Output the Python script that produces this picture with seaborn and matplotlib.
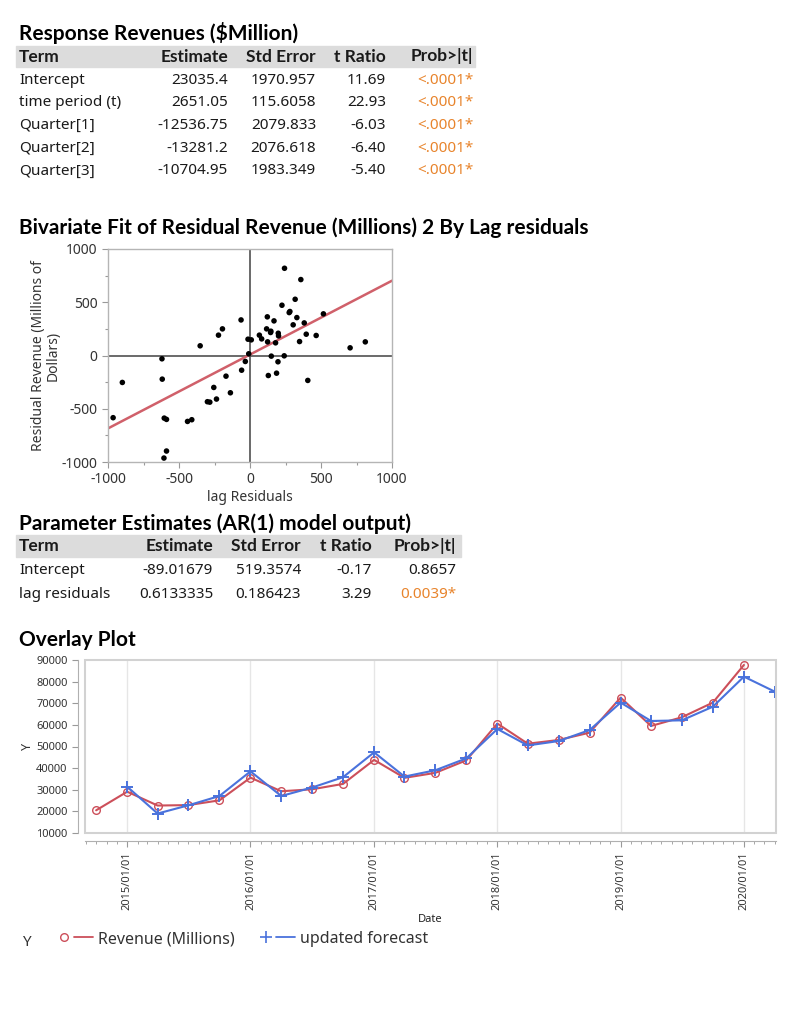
import numpy as np
import pandas as pd
import matplotlib.pyplot as plt
import matplotlib.dates as mdates
from matplotlib.lines import Line2D
from matplotlib.patches import Rectangle
from matplotlib.legend_handler import HandlerTuple
from matplotlib.ticker import MultipleLocator
import seaborn as sns

sns.set_style('white')
plt.rcParams['font.family'] = ['Noto Sans', 'DejaVu Sans']
plt.rcParams['axes.unicode_minus'] = False
BOLD = ['Lato', 'DejaVu Sans']

W, H = 810, 1024

#### 0. data ###########################################################
tbl_cols = ['Term', 'Estimate', 'Std Error', 't Ratio', 'Prob>|t|']

tbl1_title = 'Response Revenues ($Million)'
tbl1_terms = ['Intercept', 'time period (t)', 'Quarter[1]', 'Quarter[2]', 'Quarter[3]']
tbl1_est = ['23035.4', '2651.05', '-12536.75', '-13281.2', '-10704.95']
tbl1_se = ['1970.957', '115.6058', '2079.833', '2076.618', '1983.349']
tbl1_t = ['11.69', '22.93', '-6.03', '-6.40', '-5.40']
tbl1_p = ['<.0001*', '<.0001*', '<.0001*', '<.0001*', '<.0001*']
tbl1_sig = [True, True, True, True, True]

tbl2_title = 'Parameter Estimates (AR(1) model output)'
tbl2_terms = ['Intercept', 'lag residuals']
tbl2_est = ['-89.01679', '0.6133335']
tbl2_se = ['519.3574', '0.186423']
tbl2_t = ['-0.17', '3.29']
tbl2_p = ['0.8657', '0.0039*']
tbl2_sig = [False, True]

lag_resid = [-964, -899, -620, -618, -604, -588, -588, -606, -440, -410,
             -351, -300, -283, -255, -236, -222, -194, -169, -138, -63,
             -59, -33, -14, 9, -9, 66, 82, 117, 122, 124,
             129, 145, 147, 150, 169, 180, 187, 197, 199, 201,
             225, 243, 241, 276, 281, 304, 318, 330, 349, 358,
             382, 396, 407, 466, 517, 705, 812]
resid_rev = [-584, -253, -31, -222, -588, -600, -897, -963, -619, -603,
             91, -434, -438, -300, -409, 191, 250, -194, -350, 334,
             -138, -56, 153, 147, 16, 191, 156, 250, 363, 128,
             -188, 216, 228, -6, 325, 119, -166, -59, 209, 184,
             472, 819, -3, 403, 413, 288, 528, 356, 131, 713,
             306, 200, -234, 188, 391, 72, 128]

dates_rev = pd.date_range('2014-10-01', periods=22, freq='QS')
revenue = [20500, 29100, 22700, 22900, 25100, 35600, 29300, 30200, 32700, 43800, 35500,
           37800, 43600, 60600, 51300, 53000, 56400, 72600, 59500, 63500, 70300, 87700]
dates_fc = pd.date_range('2015-01-01', periods=22, freq='QS')
forecast = [31400, 19000, 22800, 27100, 38500, 27100, 31000, 35800, 47300, 36100, 39000,
            44500, 58100, 50500, 52500, 57600, 70300, 61800, 62100, 68400, 82300, 75400]

red = '#cc4f5a'
blue = '#4a72dc'
orange = '#e8842c'
txt = '#1a1a1a'

fig = plt.figure(figsize=(8.1, 10.24), dpi=100)


def fx(x):
    return x / W


def fy(y):
    return 1 - y / H


def title(y, s):
    fig.text(fx(19), fy(y), s, fontsize=15, fontweight='bold', family=BOLD,
             va='center', color='black')


def draw_table(ttl, title_y, band, band_right, col_right, row_ys, cols, sig):
    title(title_y, ttl)
    fig.patches.append(Rectangle((fx(16), fy(band[1])), fx(band_right - 16), (band[1] - band[0]) / H,
                                 transform=fig.transFigure, color='#dcdcdc', zorder=0))
    hy = fy((band[0] + band[1]) / 2)
    fig.text(fx(19), hy, tbl_cols[0], fontsize=12.5, fontweight='bold', family=BOLD,
             va='center', color=txt)
    for name, xr in zip(tbl_cols[1:], col_right):
        fig.text(fx(xr), hy, name, fontsize=12.5, fontweight='bold', family=BOLD,
                 va='center', ha='right', color=txt)
    for i, ry in enumerate(row_ys):
        fig.text(fx(19), fy(ry), cols[0][i], fontsize=11, va='center', color=txt)
        for j, xr in enumerate(col_right):
            c = orange if (j == 3 and sig[i]) else txt
            fig.text(fx(xr), fy(ry), cols[j + 1][i], fontsize=11, va='center', ha='right', color=c)


#### 1. tables ###########################################################
draw_table(tbl1_title, 33, (46, 67), 475, [228, 316, 386, 473], [80, 102.5, 125.5, 148, 171],
           [tbl1_terms, tbl1_est, tbl1_se, tbl1_t, tbl1_p], tbl1_sig)
draw_table(tbl2_title, 524, (535, 557), 461, [213, 301, 372, 456], [571, 594],
           [tbl2_terms, tbl2_est, tbl2_se, tbl2_t, tbl2_p], tbl2_sig)

#### 2. bivariate fit ###########################################################
title(228, 'Bivariate Fit of Residual Revenue (Millions) 2 By Lag residuals')

ax1 = fig.add_axes([fx(108), fy(462), 284 / W, 213 / H])
ax1.axhline(0, color='#505050', lw=1.2, zorder=1)
ax1.axvline(0, color='#505050', lw=1.2, zorder=1)
sns.scatterplot(x=lag_resid, y=resid_rev, color='black', s=16, edgecolor='none', ax=ax1, zorder=3)
ax1.set_xlim(-1000, 1000)
ax1.set_ylim(-1000, 1000)
sns.regplot(x=lag_resid, y=resid_rev, scatter=False, ci=None, truncate=False, ax=ax1,
            color='#d0606a', line_kws={'lw': 1.8, 'zorder': 2})
ax1.set_xlim(-1000, 1000)
ax1.set_ylim(-1000, 1000)
ax1.xaxis.set_major_locator(MultipleLocator(500))
ax1.yaxis.set_major_locator(MultipleLocator(500))
ax1.xaxis.set_minor_locator(MultipleLocator(250))
ax1.yaxis.set_minor_locator(MultipleLocator(250))
ax1.tick_params(which='major', direction='out', length=4, width=0.8, color='#999999',
                labelsize=10, labelcolor='#333333', bottom=True, left=True)
ax1.tick_params(which='minor', direction='out', length=2.5, width=0.8, color='#999999',
                bottom=True, left=True)
for s in ax1.spines.values():
    s.set_color('#b5b5b5')
    s.set_linewidth(1)
ax1.set_xlabel('lag Residuals', fontsize=10, color='#333333', labelpad=2)
ax1.set_ylabel('Residual Revenue (Millions of\nDollars)', fontsize=10, color='#333333',
               labelpad=1, linespacing=0.95)

#### 3. overlay plot ###########################################################
title(640, 'Overlay Plot')

ax2 = fig.add_axes([fx(85), fy(833), 691 / W, 173 / H])
sns.lineplot(x=dates_rev, y=revenue, color=red, lw=1.5, marker='o', ms=5.5,
             markerfacecolor='none', markeredgecolor=red, markeredgewidth=1, ax=ax2, zorder=3)
sns.lineplot(x=dates_fc, y=forecast, color=blue, lw=1.5, marker='+', ms=9,
             markeredgewidth=1.4, markeredgecolor=blue, ax=ax2, zorder=4)
ax2.set_xlim(pd.Timestamp('2014-08-29'), pd.Timestamp('2020-04-05'))
ax2.set_ylim(10000, 90000)
ax2.set_yticks(np.arange(10000, 90001, 10000))
ax2.xaxis.set_major_locator(mdates.YearLocator())
ax2.xaxis.set_major_formatter(mdates.DateFormatter('%Y/%m/%d'))
ax2.xaxis.set_minor_locator(mdates.MonthLocator())
ax2.grid(axis='x', which='major', color='#e6e6e6', lw=1)
ax2.grid(axis='y', visible=False)
ax2.spines['top'].set_visible(False)
ax2.spines['right'].set_visible(False)
ax2.spines['left'].set_position(('outward', 5))
ax2.spines['bottom'].set_position(('outward', 6))
ax2.spines['left'].set_color('#b0b0b0')
ax2.spines['bottom'].set_color('#b0b0b0')
ax2.add_patch(Rectangle((0, 0), 1, 1, transform=ax2.transAxes, fill=False,
                        edgecolor='#d2d2d2', lw=1.5, clip_on=False, zorder=5))
ax2.tick_params(axis='y', which='major', direction='out', length=4, color='#999999',
                labelsize=8, labelcolor='#333333', left=True)
ax2.tick_params(axis='x', which='major', direction='out', length=4, color='#999999',
                labelsize=8, labelcolor='#333333', bottom=True, labelrotation=90)
ax2.tick_params(axis='x', which='minor', direction='out', length=2.5, color='#999999', bottom=True)
ax2.set_xlabel('Date', fontsize=8, color='#222222', labelpad=3)
ax2.set_ylabel('Y', fontsize=9, color='#333333', labelpad=2)

# legend
fig.text(fx(22), fy(943), 'Y', fontsize=11, va='center', color='#333333')
h_red = (Line2D([], [], ls='none', marker='o', ms=5.5, mfc='none', mec=red),
         Line2D([], [], color=red, lw=1.3))
h_blue = (Line2D([], [], ls='none', marker='+', ms=9, mec=blue, mew=1.2),
          Line2D([], [], color=blue, lw=1.3))
fig.legend(handles=[h_red, h_blue], labels=['Revenue (Millions)', 'updated forecast'],
           handler_map={tuple: HandlerTuple(ndivide=None, pad=0.0)},
           loc='center left', bbox_to_anchor=(fx(40), fy(939)), ncol=2, frameon=False,
           fontsize=11.5, handlelength=2.4, handletextpad=0.3, columnspacing=1.4,
           labelcolor='#333333')

fig.savefig('out.png', dpi=100)
